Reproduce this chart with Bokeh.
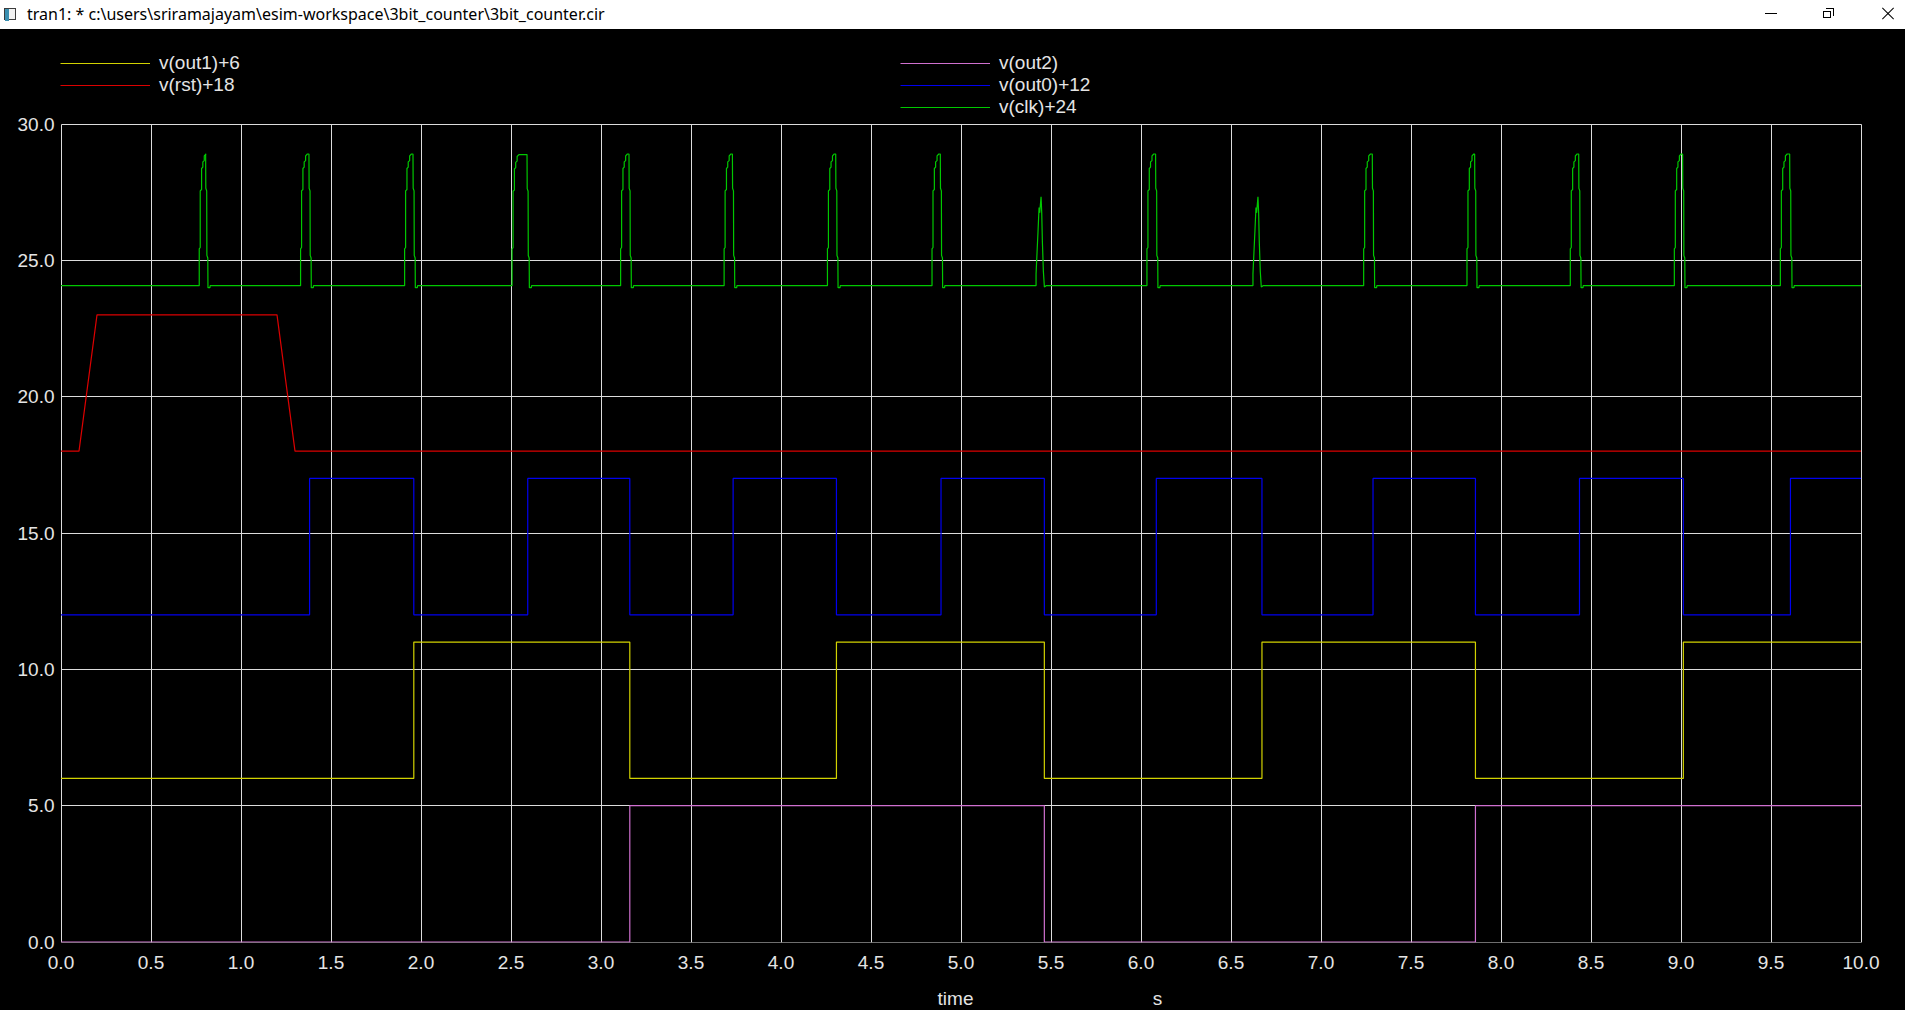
from bokeh.plotting import figure
from bokeh.models import Range1d, PrintfTickFormatter, Legend, LegendItem, Label, Div
from bokeh.layouts import column
from bokeh.embed import file_html
from bokeh.resources import INLINE

# ---------------- data ----------------
T_END = 10.0
V_TOP = 30.0
x_ticks = [0.0, 0.5, 1.0, 1.5, 2.0, 2.5, 3.0, 3.5, 4.0, 4.5, 5.0,
           5.5, 6.0, 6.5, 7.0, 7.5, 8.0, 8.5, 9.0, 9.5, 10.0]
y_ticks = [0.0, 5.0, 10.0, 15.0, 20.0, 25.0, 30.0]

# reset (PWL), shown as v(rst)+18
rst_t = [0.0, 0.1, 0.2, 1.2, 1.3, 10.0]
rst_v = [0.0, 0.0, 5.0, 5.0, 0.0, 0.0]
rst_offset = 18.0

# counter outputs: logic levels and switching instants (s)
logic_low = 0.0
logic_high = 5.0
out0_edges = [1.381, 1.960, 2.593, 3.160, 3.734, 4.308, 4.889, 5.463,
              6.085, 6.672, 7.289, 7.858, 8.436, 9.013, 9.608]
out1_edges = [1.960, 3.160, 4.308, 5.463, 6.672, 7.858, 9.013]
out2_edges = [3.160, 5.463, 7.858]
out0_offset = 12.0
out1_offset = 6.0
out2_offset = 0.0

# clock pulses, shown as v(clk)+24
clk_offset = 24.0
clk_base = 0.07
clk_rise = [0.768, 1.331, 1.909, 2.506, 3.109, 3.684, 4.258, 4.839,
            5.417, 6.033, 6.622, 7.237, 7.811, 8.385, 8.963, 9.552]
clk_fall = [0.8035, 1.3775, 1.9555, 2.589, 3.1555, 3.730, 4.304, 4.885,
            5.417, 6.081, 6.622, 7.285, 7.8536, 8.4317, 9.009, 9.6037]
clk_top = [4.90, 4.90, 4.90, 4.88, 4.90, 4.90, 4.90, 4.90,
           3.33, 4.90, 3.33, 4.90, 4.90, 4.90, 4.90, 4.90]
clk_kind = ["full", "full", "full", "full", "full", "full", "full", "full",
            "spike", "full", "spike", "full", "full", "full", "full", "full"]
# stair-stepped rising edge (s after rise, fraction of pulse height)
clk_rise_dt = [0.0, 0.0, 0.0055, 0.0055, 0.013, 0.013, 0.020, 0.020, 0.028, 0.028, 0.038]
clk_rise_lv = [0.0, 0.28, 0.29, 0.72, 0.73, 0.89, 0.90, 0.94, 0.95, 0.985, 1.0]
# falling edge (s after fall start, fraction of pulse height)
clk_fall_dt = [0.0, 0.001, 0.006, 0.007, 0.012, 0.013, 0.024, 0.025]
clk_fall_lv = [1.0, 0.74, 0.72, 0.23, 0.21, -0.015, -0.015, 0.0]
# short spike pulses (s after rise, fraction of spike height)
clk_spike_dt = [0.0, 0.0, 0.0056, 0.0111, 0.0167, 0.0204, 0.0278, 0.0315, 0.0352, 0.0407, 0.0463, 0.0556]
clk_spike_lv = [0.0, 0.13, 0.38, 0.62, 0.88, 0.82, 1.0, 0.82, 0.49, 0.16, -0.015, 0.0]

# ---------------- styles ----------------
BG = "#000000"
GRID = "#dcdcdc"
TXT = "#e4e4e4"
C_OUT1 = "#d2d200"
C_OUT2 = "#d070d0"
C_RST = "#dc0000"
C_OUT0 = "#0000ee"
C_CLK = "#00c800"
LW = 1.2
FONT = "Liberation Sans"
FS = "19px"
W = 1905
B_LEFT = 60
B_RIGHT = 43
BLACK_CSS = {"background-color": BG}


def step_trace(edges, offset):
    t = [0.0]
    v = [logic_low + offset]
    cur = logic_low
    for e in edges:
        nxt = logic_high if cur == logic_low else logic_low
        t += [e, e]
        v += [cur + offset, nxt + offset]
        cur = nxt
    t.append(T_END)
    v.append(cur + offset)
    return t, v


def clk_trace():
    t = [0.0]
    v = [clk_base + clk_offset]
    for r, f, h, k in zip(clk_rise, clk_fall, clk_top, clk_kind):
        amp = h - clk_base
        if k == "spike":
            for dt, lv in zip(clk_spike_dt, clk_spike_lv):
                t.append(r + dt)
                v.append(clk_offset + clk_base + lv * amp)
        else:
            for dt, lv in zip(clk_rise_dt, clk_rise_lv):
                t.append(r + dt)
                v.append(clk_offset + clk_base + lv * amp)
            for dt, lv in zip(clk_fall_dt, clk_fall_lv):
                t.append(f + dt)
                v.append(clk_offset + clk_base + lv * amp)
    t.append(T_END)
    v.append(clk_base + clk_offset)
    return t, v


# ---------------- window caption (HTML) ----------------
TITLE = "tran1: * c:\\users\\sriramajayam\\esim-workspace\\3bit_counter\\3bit_counter.cir"
caption_html = (
    '<div style="position:relative;width:1905px;height:29px;background:#ffffff;overflow:hidden;">'
    '<div style="position:absolute;left:4px;top:8px;width:12px;height:12px;'
    'border:1px solid #3c3c3c;background:#f2f2f2;"></div>'
    '<div style="position:absolute;left:5px;top:9px;width:4px;height:12px;background:#3a8fb0;"></div>'
    '<span style="position:absolute;left:27px;top:0px;line-height:29px;white-space:nowrap;'
    'font-family:\'Noto Sans\';font-size:16px;color:#000000;">' + TITLE + '</span>'
    '<div style="position:absolute;left:1765px;top:13px;width:12px;height:1px;background:#000;"></div>'
    '<div style="position:absolute;left:1826px;top:8px;width:8px;height:8px;'
    'border-top:1px solid #000;border-right:1px solid #000;"></div>'
    '<div style="position:absolute;left:1823px;top:11px;width:8px;height:7px;'
    'border:1px solid #000;background:#fff;"></div>'
    '<div style="position:absolute;left:1880px;top:13px;width:16px;height:1px;background:#000;'
    'transform:rotate(45deg);"></div>'
    '<div style="position:absolute;left:1880px;top:13px;width:16px;height:1px;background:#000;'
    'transform:rotate(-45deg);"></div>'
    '</div>')
caption = Div(text=caption_html, width=W, height=29, margin=0)

# ---------------- main plot (frame extends up to hold the legend) ----------------
# frame: x 60..1862 px, y 29..942 px (page); grid lines land on pixel centres
PX_PER_S = 180.0
PX_PER_V = 818.0 / 30.0
X_START = -0.5 / PX_PER_S
X_END = T_END + 1.5 / PX_PER_S
Y_START = -0.5 / PX_PER_V
Y_END = V_TOP + (123.5 - 29.0) / PX_PER_V
p = figure(width=W, height=953, x_range=Range1d(X_START, X_END), y_range=Range1d(Y_START, Y_END),
           output_backend="svg", toolbar_location=None,
           min_border_left=B_LEFT, min_border_right=B_RIGHT, min_border_top=0, min_border_bottom=40,
           background_fill_color=None, border_fill_color=None, styles=BLACK_CSS)
p.outline_line_color = None

p.xaxis.ticker = x_ticks
p.yaxis.ticker = y_ticks
p.xaxis.formatter = PrintfTickFormatter(format="%.1f")
p.yaxis.formatter = PrintfTickFormatter(format="%.1f")
for ax in (p.xaxis, p.yaxis):
    ax.axis_line_color = None
    ax.major_tick_line_color = None
    ax.minor_tick_line_color = None
    ax.major_tick_out = 0
    ax.major_tick_in = 0
    ax.major_label_text_font = FONT
    ax.major_label_text_font_size = FS
    ax.major_label_text_color = TXT
p.xaxis.major_label_standoff = 13
p.yaxis.major_label_standoff = 6
p.ygrid.grid_line_color = GRID
p.ygrid.grid_line_width = 1
try:
    p.xgrid.cross_bounds = (0.0, V_TOP)
    p.ygrid.cross_bounds = (0.0, T_END)
    p.xgrid.grid_line_color = GRID
    p.xgrid.grid_line_width = 1
except Exception:
    p.xgrid.visible = False
    p.segment(x0=x_ticks, y0=[0.0] * len(x_ticks), x1=x_ticks, y1=[V_TOP] * len(x_ticks),
              line_color=GRID, line_width=1, level="underlay")

clk_t, clk_v = clk_trace()
rst_tv = [v + rst_offset for v in rst_v]
o0_t, o0_v = step_trace(out0_edges, out0_offset)
o1_t, o1_v = step_trace(out1_edges, out1_offset)
o2_t, o2_v = step_trace(out2_edges, out2_offset)

r_out0 = p.line(o0_t, o0_v, line_color=C_OUT0, line_width=LW)
r_rst = p.line(rst_t, rst_tv, line_color=C_RST, line_width=LW)
r_clk = p.line(clk_t, clk_v, line_color=C_CLK, line_width=LW)
r_out1 = p.line(o1_t, o1_v, line_color=C_OUT1, line_width=LW)
r_out2 = p.line(o2_t, o2_v, line_color=C_OUT2, line_width=LW)


def make_legend(items, loc):
    return Legend(items=items, location=loc, orientation="vertical",
                  glyph_width=90, glyph_height=22, label_height=22, label_standoff=9,
                  spacing=0, padding=0, margin=0,
                  background_fill_alpha=0, border_line_alpha=0,
                  label_text_font=FONT, label_text_font_size=FS, label_text_color=TXT,
                  label_text_baseline="middle")


# legend rows centred on pixel rows (62.5, 84.5, 106.5 px)
p.add_layout(make_legend([LegendItem(label="v(out1)+6", renderers=[r_out1]),
                          LegendItem(label="v(rst)+18", renderers=[r_rst])], (0, 846.5)))
p.add_layout(make_legend([LegendItem(label="v(out2)", renderers=[r_out2]),
                          LegendItem(label="v(out0)+12", renderers=[r_out0]),
                          LegendItem(label="v(clk)+24", renderers=[r_clk])], (840, 824.5)))

# ---------------- axis caption strip ("time" ... "s") ----------------
bt = figure(width=W, height=28, x_range=Range1d(0, 1), y_range=Range1d(0, 1),
            output_backend="svg", toolbar_location=None,
            min_border_left=B_LEFT, min_border_right=B_RIGHT, min_border_top=0, min_border_bottom=0,
            x_axis_location=None, y_axis_location=None,
            background_fill_color=None, border_fill_color=None, styles=BLACK_CSS)
bt.outline_line_color = None
bt.grid.visible = False
bt.add_layout(Label(x=895, y=12, x_units="screen", y_units="screen", text="time",
                    text_align="center", text_baseline="alphabetic",
                    text_font=FONT, text_font_size=FS, text_color=TXT))
bt.add_layout(Label(x=1097, y=12, x_units="screen", y_units="screen", text="s",
                    text_align="center", text_baseline="alphabetic",
                    text_font=FONT, text_font_size=FS, text_color=TXT))

layout = column(caption, p, bt, spacing=0, styles=BLACK_CSS)
open("out.html", "w").write(file_html(layout, INLINE))
